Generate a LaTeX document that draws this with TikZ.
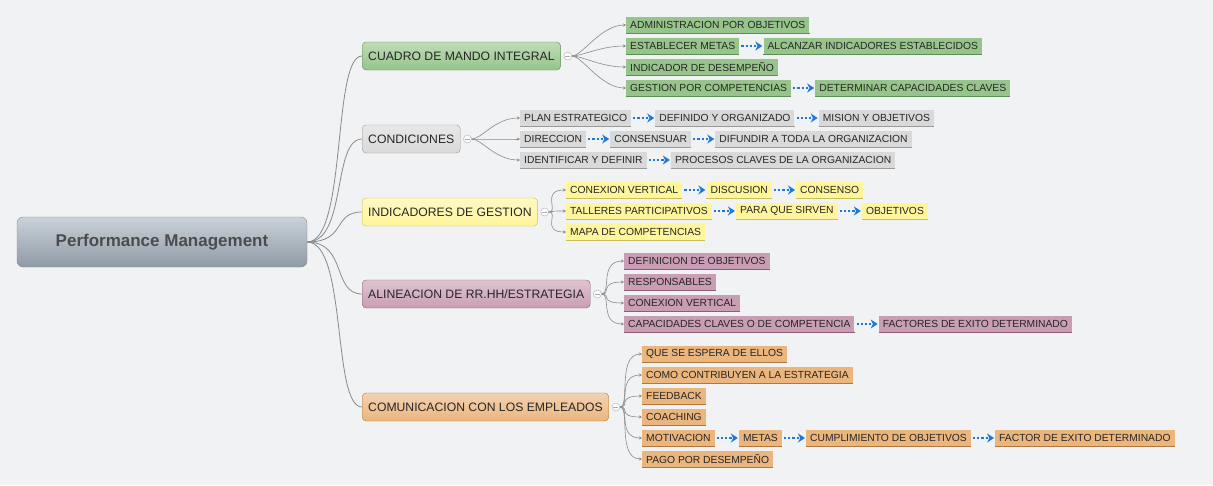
\documentclass[tikz,border=0pt]{standalone}
\usepackage{fontspec}
\setmainfont{Liberation Sans}
\usetikzlibrary{arrows.meta,positioning}
\definecolor{bg}{HTML}{F1F2F4}
\definecolor{gL}{HTML}{96C48A}\definecolor{gD}{HTML}{5E8E55}
\definecolor{sL}{HTML}{D9D9D9}\definecolor{sD}{HTML}{9A9A9A}
\definecolor{yL}{HTML}{FFF59C}\definecolor{yD}{HTML}{C9BE5A}
\definecolor{mL}{HTML}{C99DB3}\definecolor{mD}{HTML}{8E5C75}
\definecolor{oL}{HTML}{EBB57E}\definecolor{oD}{HTML}{B07840}
\definecolor{lk}{HTML}{8A8A8A}
\definecolor{ab}{HTML}{1E78D8}
\definecolor{rT}{HTML}{C9D2DA}\definecolor{rB}{HTML}{8E9AA5}
\tikzset{
 leaf/.style={anchor=west,inner xsep=4pt,inner ysep=0pt,minimum height=17pt,font=\fontsize{10.3}{12}\selectfont,text=black!85,
   fill=#1L,append after command={(\tikzlastnode.south west) edge[draw=#1D,line width=1pt] (\tikzlastnode.south east)}},
 mainbox/.style={anchor=west,rounded corners=4pt,draw=#1D,top color=#1L!60!white,bottom color=#1L,minimum height=28pt,inner xsep=6pt,font=\fontsize{12.2}{14}\selectfont,text=black!85},
 link/.style={draw=lk,line width=0.8pt},
 llink/.style={draw=lk,line width=0.6pt,-{Stealth[length=3pt,width=3pt]}},
 chainarr/.style={draw=ab,line width=2.2pt,dotted,-{Stealth[length=7pt,width=9pt]},shorten <=2pt,shorten >=1pt},
 knob/.style={circle,draw=lk!70,fill=white,inner sep=0pt,minimum size=8pt}
}
\begin{document}
\begin{tikzpicture}[x=1pt,y=-1pt]
\fill[bg] (0,0) rectangle (1213,485);
\useasboundingbox (0,0) rectangle (1213,485);
\node[rounded corners=6pt,draw=black!45,top color=rT,bottom color=rB,minimum width=290pt,minimum height=50pt,font=\fontsize{17}{20}\selectfont\bfseries,text=black!70] (root) at (162,242) {Performance Management};
% main nodes
\node[mainbox=g] (m1) at (362,56) {CUADRO DE MANDO INTEGRAL};
\node[mainbox=s] (m2) at (362,139) {CONDICIONES};
\node[mainbox=y] (m3) at (362,212) {INDICADORES DE GESTION};
\node[mainbox=m] (m4) at (362,294) {ALINEACION DE RR.HH/ESTRATEGIA};
\node[mainbox=o] (m5) at (362,407) {COMUNICACION CON LOS EMPLEADOS};
\foreach \m in {m1,m2,m3,m4,m5}{\draw[link] (root.east) .. controls +(40,0) and +(-30,0) .. (\m.west);}
% knobs
\foreach \m in {1,...,5}{\node[knob] (k\m) at ([xshift=7pt]m\m.east) {};\draw[lk!70] ([xshift=-2.5pt]k\m.center)--([xshift=2.5pt]k\m.center);}
% green leaves
\node[leaf=g] (g1) at (626,25) {ADMINISTRACION POR OBJETIVOS};
\node[leaf=g] (g2) at (626,46) {ESTABLECER METAS};
\node[leaf=g,right=24pt of g2] (g2b) {ALCANZAR INDICADORES ESTABLECIDOS};
\node[leaf=g] (g3) at (626,67) {INDICADOR DE DESEMPEÑO};
\node[leaf=g] (g4) at (626,88) {GESTION POR COMPETENCIAS};
\node[leaf=g,right=24pt of g4] (g4b) {DETERMINAR CAPACIDADES CLAVES};
% gray
\node[leaf=s] (s1) at (520,118) {PLAN ESTRATEGICO};
\node[leaf=s,right=24pt of s1] (s1b) {DEFINIDO Y ORGANIZADO};
\node[leaf=s,right=24pt of s1b] (s1c) {MISION Y OBJETIVOS};
\node[leaf=s] (s2) at (520,139) {DIRECCION};
\node[leaf=s,right=24pt of s2] (s2b) {CONSENSUAR};
\node[leaf=s,right=24pt of s2b] (s2c) {DIFUNDIR A TODA LA ORGANIZACION};
\node[leaf=s] (s3) at (520,160) {IDENTIFICAR Y DEFINIR};
\node[leaf=s,right=24pt of s3] (s3b) {PROCESOS CLAVES DE LA ORGANIZACION};
% yellow
\node[leaf=y] (y1) at (566,190) {CONEXION VERTICAL};
\node[leaf=y,right=24pt of y1] (y1b) {DISCUSION};
\node[leaf=y,right=24pt of y1b] (y1c) {CONSENSO};
\node[leaf=y] (y2) at (566,211) {TALLERES PARTICIPATIVOS};
\node[leaf=y,right=24pt of y2] (y2b) {PARA QUE SIRVEN};
\node[leaf=y,right=24pt of y2b] (y2c) {OBJETIVOS};
\node[leaf=y] (y3) at (566,232) {MAPA DE COMPETENCIAS};
% mauve
\node[leaf=m] (p1) at (624,261) {DEFINICION DE OBJETIVOS};
\node[leaf=m] (p2) at (624,282) {RESPONSABLES};
\node[leaf=m] (p3) at (624,303) {CONEXION VERTICAL};
\node[leaf=m] (p4) at (624,324) {CAPACIDADES CLAVES O DE COMPETENCIA};
\node[leaf=m,right=24pt of p4] (p4b) {FACTORES DE EXITO DETERMINADO};
% orange
\node[leaf=o] (o1) at (642,354) {QUE SE ESPERA DE ELLOS};
\node[leaf=o] (o2) at (642,375) {COMO CONTRIBUYEN A LA ESTRATEGIA};
\node[leaf=o] (o3) at (642,396) {FEEDBACK};
\node[leaf=o] (o4) at (642,417) {COACHING};
\node[leaf=o] (o5) at (642,438) {MOTIVACION};
\node[leaf=o,right=24pt of o5] (o5b) {METAS};
\node[leaf=o,right=24pt of o5b] (o5c) {CUMPLIMIENTO DE OBJETIVOS};
\node[leaf=o,right=24pt of o5c] (o5d) {FACTOR DE EXITO DETERMINADO};
\node[leaf=o] (o6) at (642,459) {PAGO POR DESEMPEÑO};
% leaf links
\foreach \k/\l in {k1/g1,k1/g2,k1/g3,k1/g4,k2/s1,k2/s2,k2/s3,k3/y1,k3/y2,k3/y3,k4/p1,k4/p2,k4/p3,k4/p4,k5/o1,k5/o2,k5/o3,k5/o4,k5/o5,k5/o6}{
 \draw[llink] (\k.east) .. controls +(10,0) and +(-25,0) .. (\l.west);}
% chain arrows
\foreach \a/\b in {g2/g2b,g4/g4b,s1/s1b,s1b/s1c,s2/s2b,s2b/s2c,s3/s3b,y1/y1b,y1b/y1c,y2/y2b,y2b/y2c,p4/p4b,o5/o5b,o5b/o5c,o5c/o5d}{
 \draw[chainarr] (\a.east) -- (\b.west);}
\end{tikzpicture}
\end{document}
